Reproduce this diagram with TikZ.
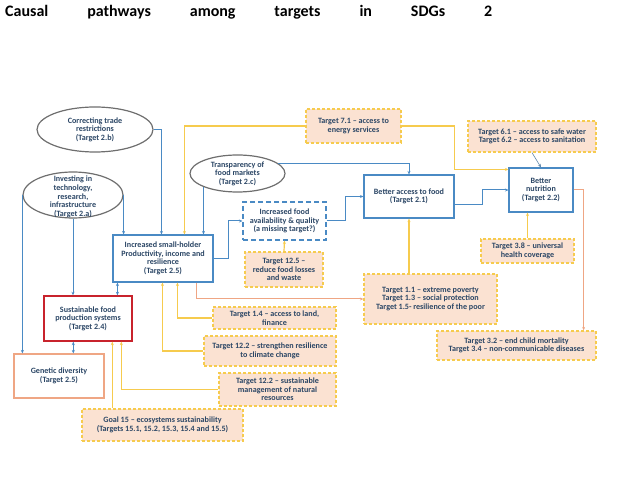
\documentclass[tikz,border=0pt]{standalone}
\usepackage{fontspec}
\setmainfont{Carlito}
\usepackage{xcolor}
\usetikzlibrary{positioning,arrows.meta,shapes.geometric,calc}

\definecolor{sdgblue}{HTML}{4A8AC4}
\definecolor{sdgtext}{HTML}{2C4766}
\definecolor{sdgyellow}{HTML}{F6CB4E}
\definecolor{sdgpeach}{HTML}{FBE2D2}
\definecolor{sdgorange}{HTML}{EFA684}
\definecolor{sdgred}{HTML}{C8232C}
\definecolor{sdggray}{HTML}{6E6E6E}

\begin{document}
\begin{tikzpicture}[x=1pt,y=-1pt,
  txt/.style={align=center, text=sdgtext, font=\bfseries\fontsize{8.1}{8.6}\selectfont, inner sep=0pt},
  tgt/.style={txt, draw=sdgyellow, fill=sdgpeach, dash pattern=on 3pt off 2pt, line width=1.3pt},
  goal/.style={txt, draw=sdgblue, fill=white, line width=1.1pt},
  oval/.style={txt, ellipse, draw=sdggray, fill=white, line width=1.2pt},
  ar/.style={-{Stealth[length=3.5pt,width=3pt]}},
  bl/.style={ar, draw=sdgblue, line width=1pt},
  yl/.style={ar, draw=sdgyellow, line width=1.2pt},
  og/.style={ar, draw=sdgorange, line width=1pt}]

  \useasboundingbox (0,0) rectangle (638,478);

  \node[anchor=base west, inner sep=0pt, font=\bfseries\fontsize{16}{18}\selectfont] (title) at (5,17)
    {\makebox[487pt][s]{Causal pathways among targets in SDGs 2}};

  % ellipses
  \node[oval, minimum width=116pt, minimum height=45pt] (trade) at (95,129.5) {Correcting trade\\restrictions\\(Target 2.b)};
  \node[oval, minimum width=100pt, minimum height=46pt] (invest) at (73,195) {};
  \node[txt] (investtxt) at (73,197) {Investing in\\technology,\\research,\\infrastructure\\(Target 2.a)};
  \node[oval, minimum width=95pt, minimum height=37pt] (transp) at (237.5,173.5) {Transparency of\\food markets\\(Target 2.c)};

  % goal boxes
  \node[goal, minimum width=100pt, minimum height=47pt] (small) at (163,258.5) {Increased small-holder\\Productivity, income and\\resilience\\(Target 2.5)};
  \node[goal, dash pattern=on 5pt off 3pt, minimum width=83pt, minimum height=38pt] (avail) at (284.5,221) {Increased food\\availability \& quality\\(a missing target?)};
  \node[goal, minimum width=90pt, minimum height=43pt] (access) at (409,196.5) {Better access to food\\(Target 2.1)};
  \node[goal, minimum width=64pt, minimum height=44pt] (nutr) at (541,190) {Better\\nutrition\\(Target 2.2)};
  \node[goal, draw=sdgred, line width=1.4pt, minimum width=88pt, minimum height=45pt] (sust) at (88,318.5) {Sustainable food\\production systems\\(Target 2.4)};
  \node[goal, draw=sdgorange, minimum width=90pt, minimum height=44pt] (gene) at (59,376) {Genetic diversity\\(Target 2.5)};

  % other targets
  \node[tgt, minimum width=78pt, minimum height=35pt] (t125) at (284,269.5) {Target 12.5 –\\reduce food losses\\and waste};
  \node[tgt, minimum width=95pt, minimum height=34pt] (t7) at (353.5,126) {Target 7.1 – access to\\energy services};
  \node[tgt, minimum width=128pt, minimum height=31pt] (t6) at (532,136.5) {Target 6.1 – access to safe water\\Target 6.2 – access to sanitation};
  \node[tgt, minimum width=93pt, minimum height=24pt] (t38) at (527.5,251) {Target 3.8 – universal\\health coverage};
  \node[tgt, minimum width=133pt, minimum height=50pt] (t11) at (430.5,299) {Target 1.1 – extreme poverty\\Target 1.3 – social protection\\Target 1.5- resilience of the poor};
  \node[tgt, minimum width=159pt, minimum height=29pt] (t32) at (516.5,345.5) {Target 3.2 – end child mortality\\Target 3.4 – non-communicable diseases};
  \node[tgt, minimum width=123pt, minimum height=22pt] (t14) at (274.5,318) {Target 1.4 – access to land,\\finance};
  \node[tgt, minimum width=132pt, minimum height=30pt] (t122a) at (270,351) {Target 12.2 – strengthen resilience\\to climate change};
  \node[tgt, minimum width=117pt, minimum height=33pt] (t122b) at (277.5,389.5) {Target 12.2 – sustainable\\management of natural\\resources};
  \node[tgt, minimum width=161pt, minimum height=32pt] (goal15) at (162.5,425) {Goal 15 – ecosystems sustainability\\(Targets 15.1, 15.2, 15.3, 15.4 and 15.5)};

  % blue links
  \draw[bl] (trade.east) -| ([xshift=49pt]small.north west);
  \draw[bl] (invest.east) -- (invest.east |- small.north);
  \draw[bl] (invest.south) -- (invest.south |- sust.north);
  \draw[bl] (invest.west) -- (invest.west |- gene.north);
  \draw[bl] (transp.south west) -- (transp.south west |- small.north);
  \draw[bl] (transp.14) -| (access.north);
  \draw[bl] (small.east) -- ++(15,0) |- (avail.west);
  \draw[bl] (avail.east) -- ++(19,0) |- (access.west);
  \draw[bl] ([yshift=-8pt]access.east) -- ++(28,0) |- (nutr.west);
  \draw[bl, {Stealth[length=3.5pt,width=3pt]}-{Stealth[length=3.5pt,width=3pt]}] ([xshift=5pt]small.south west) -- ([xshift=5pt]small.south west |- sust.north);
  \draw[bl, {Stealth[length=3.5pt,width=3pt]}-{Stealth[length=3.5pt,width=3pt]}] ([xshift=30pt]sust.south west) -- ([xshift=30pt]sust.south west |- gene.north);
  \draw[ar, draw=sdgblue!60!gray, line width=0.6pt] (t6.south) -- (nutr.north);

  % yellow links
  \draw[yl] (t7.west) -| ([xshift=72pt]small.north west);
  \draw[yl] (t7.east) -- ++(53,0) |- ([yshift=-2pt]nutr.north west);
  \draw[yl] (t125.north) -- (avail.south);
  \draw[yl] (access.south |- t11.north) -- (access.south);
  \draw[yl] (t38.north) -- (t38.north |- nutr.south);
  \draw[yl] (t14.west) -| ([xshift=65pt]small.south west);
  \draw[yl] (t122a.west) -| ([xshift=50pt]small.south west);
  \draw[yl] (t122b.west) -| ([xshift=78pt]sust.south west);
  \draw[yl] ([xshift=69pt]sust.south west |- goal15.north) -- ([xshift=69pt]sust.south west);

  % orange links
  \draw[og] ([xshift=84pt]small.south west) |- (t11.west);
  \draw[og] (nutr.east) -| ([xshift=-13pt]t32.north east);
\end{tikzpicture}
\end{document}
